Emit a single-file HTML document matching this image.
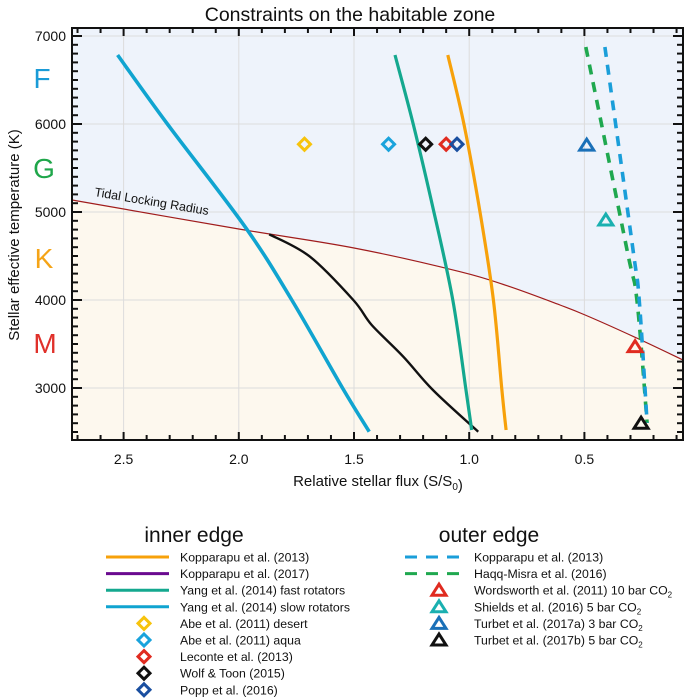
<!DOCTYPE html>
<html><head><meta charset="utf-8"><style>
html,body{margin:0;padding:0;background:#fff;}
svg{display:block;font-family:"Liberation Sans",sans-serif;}
</style></head><body>
<svg id="chart" width="685" height="699" viewBox="0 0 685 699" xmlns="http://www.w3.org/2000/svg">
<text x="350" y="21" font-size="19.5" text-anchor="middle" fill="#111">Constraints on the habitable zone</text>
<text transform="translate(19,235) rotate(-90)" font-size="15" text-anchor="middle" fill="#111">Stellar effective temperature (K)</text>
<text x="378" y="486" font-size="15" text-anchor="middle" fill="#111">Relative stellar flux (S/S<tspan font-size="10" dy="4">0</tspan>)</text>
<g font-size="28" text-anchor="middle">
<text x="42" y="88" fill="#1a9bd7">F</text>
<text x="44" y="178" fill="#1fa64a">G</text>
<text x="44" y="268" fill="#f5a417">K</text>
<text x="45" y="353" fill="#e0302a">M</text>
</g>
<g id="plot"></g>
<g id="legend"></g>
</svg>
<script>
// ---- data ----
const xTicks = [2.5, 2.0, 1.5, 1.0, 0.5];
const yTicks = [3000, 4000, 5000, 6000, 7000];
const tidalFlux = [2.724, 2.0, 1.5, 1.04, 0.823, 0.606, 0.497, 0.280, 0.072];
const tidalTemp = [5136, 4807, 4591, 4322, 4151, 3943, 3830, 3576, 3318];
const slowFlux = [2.526, 2.31, 1.973, 1.77, 1.55, 1.434];
const slowTemp = [6784, 6000, 4833, 4000, 3000, 2503];
const fastFlux = [1.322, 1.243, 1.153, 1.071, 1.015, 0.989];
const fastTemp = [6784, 6000, 5000, 4000, 3000, 2523];
const kop13Flux = [1.093, 1.023, 0.953, 0.895, 0.859, 0.840];
const kop13Temp = [6784, 6000, 5000, 4000, 3000, 2523];
const wolfFlux = [1.868, 1.691, 1.503, 1.423, 1.286, 1.156, 0.961];
const wolfTemp = [4747, 4492, 4000, 3716, 3356, 2973, 2503];
const outerKopFlux = [0.411, 0.289, 0.262, 0.228];
const outerKopTemp = [6875, 4570, 4000, 2602];
const haqqFlux = [0.494, 0.315, 0.272, 0.228];
const haqqTemp = [6875, 4570, 4000, 2602];
const diamondNames = ['abe-desert', 'abe-aqua', 'wolf-toon', 'leconte', 'popp'];
const diamondFlux = [1.715, 1.35, 1.189, 1.10, 1.053];
const diamondTemp = [5770, 5770, 5770, 5770, 5770];
const diamondColors = ['#f7c30c', '#1aa3dc', '#111111', '#e02b20', '#1a4fa0'];
const triNames = ['turbet-2017a', 'shields', 'wordsworth', 'turbet-2017b'];
const triFlux = [0.49, 0.407, 0.28, 0.254];
const triTemp = [5760, 4909, 3470, 2600];
const triColors = ['#1a70b8', '#1ab0b0', '#e02b20', '#111111'];

// ---- axes ----
const L = 72, R = 683, T = 28, B = 440;
const sx = f => 123.6 + (2.5 - f) * 230.4;
const sy = t => 124 + (6000 - t) * 0.088;
const NS = 'http://www.w3.org/2000/svg';
const plot = document.getElementById('plot');
function mk(tag, attrs, parent) {
  const e = document.createElementNS(NS, tag);
  for (const k in attrs) e.setAttribute(k, attrs[k]);
  (parent || plot).appendChild(e);
  return e;
}

function smoothPath(xs, ys) {
  const p = xs.map((f, i) => [sx(f), sy(ys[i])]);
  let d = 'M' + p[0][0].toFixed(1) + ',' + p[0][1].toFixed(1);
  for (let i = 0; i < p.length - 1; i++) {
    const p0 = p[Math.max(0, i - 1)], p1 = p[i], p2 = p[i + 1], p3 = p[Math.min(p.length - 1, i + 2)];
    const c1x = p1[0] + (p2[0] - p0[0]) / 6, c1y = p1[1] + (p2[1] - p0[1]) / 6;
    const c2x = p2[0] - (p3[0] - p1[0]) / 6, c2y = p2[1] - (p3[1] - p1[1]) / 6;
    d += ` C${c1x.toFixed(1)},${c1y.toFixed(1)} ${c2x.toFixed(1)},${c2y.toFixed(1)} ${p2[0].toFixed(1)},${p2[1].toFixed(1)}`;
  }
  return d;
}

// backgrounds
const bgTop = mk('rect', {x: L, y: T, width: R - L, height: B - T, fill: '#eef3fb'});


const bgLow = mk('path', {d: smoothPath(tidalFlux, tidalTemp) + ` L${R},${B} L${L},${B} Z`, fill: '#fdf8ee'});



// grid
xTicks.forEach(v => {
  const g = mk('line', {x1: sx(v), x2: sx(v), y1: T, y2: B, stroke: '#dcdcdc', 'stroke-width': 1});
  
  
});
yTicks.forEach(v => {
  const g = mk('line', {x1: L, x2: R, y1: sy(v), y2: sy(v), stroke: '#dcdcdc', 'stroke-width': 1});
  
  
});

// tidal line
const tl = mk('path', {d: smoothPath(tidalFlux, tidalTemp), fill: 'none', stroke: '#a01c1c', 'stroke-width': 1.2});


const tlt = mk('text', {x: 0, y: 0, 'font-size': 12.5, fill: '#111', transform: `translate(94,196) rotate(9.5)`});
tlt.textContent = 'Tidal Locking Radius';



function series(name, xs, ys, color, w, dash) {
  const a = {d: smoothPath(xs, ys), fill: 'none', stroke: color, 'stroke-width': w, 'stroke-linejoin': 'round'};
  if (dash) a['stroke-dasharray'] = dash;
  const e = mk('path', a);
  
  
}
series('yang-slow-rotators-line', slowFlux, slowTemp, '#10a4d0', 3.6);
series('wolf-toon-line', wolfFlux, wolfTemp, '#111', 2.4);
series('yang-fast-rotators-line', fastFlux, fastTemp, '#14a88f', 3.2);
series('kopparapu-2013-inner-line', kop13Flux, kop13Temp, '#f7a10a', 3.2);
series('haqq-misra-outer-line', haqqFlux, haqqTemp, '#1fa84f', 3.6, '10 8');
series('kopparapu-2013-outer-line', outerKopFlux, outerKopTemp, '#1a9ed9', 3.6, '10 8');

function diamond(cx, cy, c, parent, name) {
  const e = mk('polygon', {points: `${cx},${cy - 6} ${cx + 6},${cy} ${cx},${cy + 6} ${cx - 6},${cy}`, fill: 'none', stroke: c, 'stroke-width': 3}, parent);
  
  
}
function tri(cx, cy, c, parent, name) {
  const e = mk('polygon', {points: `${cx},${cy - 6} ${cx + 7},${cy + 5} ${cx - 7},${cy + 5}`, fill: 'none', stroke: c, 'stroke-width': 3, 'stroke-linejoin': 'miter'}, parent);
  
  
}
diamondFlux.forEach((f, i) => diamond(sx(f), sy(diamondTemp[i]), diamondColors[i], plot, diamondNames[i] + '-marker'));
triFlux.forEach((f, i) => tri(sx(f), sy(triTemp[i]), triColors[i], plot, triNames[i] + '-marker'));

// frame & ticks
const fr = mk('rect', {x: L, y: T, width: R - L, height: B - T, fill: 'none', stroke: '#111', 'stroke-width': 2});


for (let k = 1; k <= 27; k++) {
  const f = k / 10; const x = sx(f);
  if (x < L + 1 || x > R - 1) continue;
  const major = k % 5 === 0, len = major ? 8 : 5;
  mk('line', {x1: x, x2: x, y1: B, y2: B - len, stroke: '#111', 'stroke-width': 2});
  mk('line', {x1: x, x2: x, y1: T, y2: T + len, stroke: '#111', 'stroke-width': 2});
}
for (let t = 2500; t <= 7000; t += 100) {
  const y = sy(t); if (y > B - 1 || y < T + 1) continue;
  const major = t % 1000 === 0, len = major ? 10 : 6;
  mk('line', {x1: L, x2: L + len, y1: y, y2: y, stroke: '#111', 'stroke-width': 2});
  mk('line', {x1: R, x2: R - len, y1: y, y2: y, stroke: '#111', 'stroke-width': 2});
}
xTicks.forEach(v => {
  const e = mk('text', {x: sx(v), y: 464, 'font-size': 14, 'text-anchor': 'middle', fill: '#111'});
  e.textContent = v.toFixed(1);
  
  
});
yTicks.forEach(v => {
  const e = mk('text', {x: 66, y: sy(v) + 5, 'font-size': 14, 'text-anchor': 'end', fill: '#111'});
  e.textContent = v;
  
  
});

// legend
const lg = document.getElementById('legend');
const innerLabels = ['Kopparapu et al. (2013)', 'Kopparapu et al. (2017)', 'Yang et al. (2014) fast rotators', 'Yang et al. (2014) slow rotators', 'Abe et al. (2011) desert', 'Abe et al. (2011) aqua', 'Leconte et al. (2013)', 'Wolf & Toon (2015)', 'Popp et al. (2016)'];
const innerLineColors = ['#f7a10a', '#6a0a8f', '#14a88f', '#10a4d0'];
const innerDiaColors = ['#f7c30c', '#1aa3dc', '#e02b20', '#111111', '#1a4fa0'];
const outerLabels = ['Kopparapu et al. (2013)', 'Haqq-Misra et al. (2016)', 'Wordsworth et al. (2011) 10 bar CO', 'Shields et al. (2016) 5 bar CO', 'Turbet et al. (2017a) 3 bar CO', 'Turbet et al. (2017b) 5 bar CO'];
const outerLineColors = ['#1a9ed9', '#1fa84f'];
const outerTriColors = ['#e02b20', '#1ab0b0', '#1a70b8', '#111111'];
function ttl(x, s, name) {
  const e = mk('text', {x: x, y: 542, 'font-size': 21, 'text-anchor': 'middle', fill: '#111'}, lg);
  e.textContent = s;
  
  
}
ttl(194, 'inner edge', 'legend-inner-title');
ttl(489, 'outer edge', 'legend-outer-title');
const rowY = i => 557 + i * 16.6;
innerLabels.forEach((s, i) => {
  const y = rowY(i);
  if (i < 4) {
    const l = mk('line', {x1: 106, x2: 169, y1: y, y2: y, stroke: innerLineColors[i], 'stroke-width': 3}, lg);
    
    
  } else diamond(144, y, innerDiaColors[i - 4], lg, 'legend-inner-diamond-swatch');
  const e = mk('text', {x: 180, y: y + 4.5, 'font-size': 12.3, fill: '#111'}, lg);
  e.textContent = s;
  
  
});
outerLabels.forEach((s, i) => {
  const y = rowY(i);
  if (i < 2) {
    const l = mk('line', {x1: 405, x2: 460, y1: y, y2: y, stroke: outerLineColors[i], 'stroke-width': 3, 'stroke-dasharray': '12 9'}, lg);
    
    
  } else tri(439, y, outerTriColors[i - 2], lg, 'legend-outer-triangle-swatch');
  const e = mk('text', {x: 474, y: y + 4.5, 'font-size': 12.3, fill: '#111'}, lg);
  e.textContent = s;
  if (i >= 2) { const sub = mk('tspan', {'font-size': 8, dy: 3}, e); sub.textContent = '2'; }
  
  
});
</script>
</body></html>
